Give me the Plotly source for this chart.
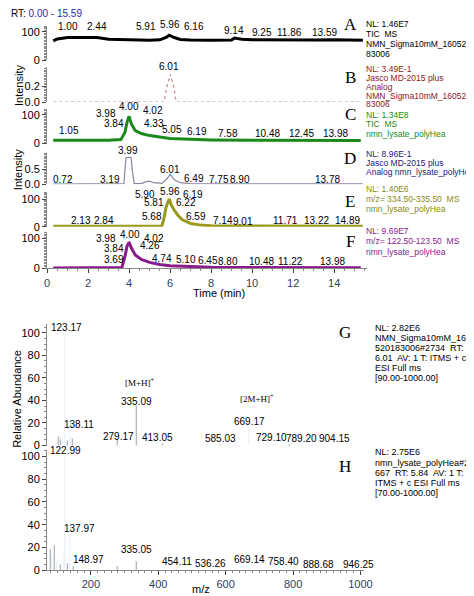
import plotly.graph_objects as go

W, H = 474, 596
def px(x): return x / W
def py(y): return 1 - y / H

# ---------------- data ----------------
tA = [0.3,0.5,1,1.5,2,2.44,3,3.5,4,4.5,5,5.5,5.8,5.96,6.2,6.5,7,8,9,9.14,9.5,10,11,12,13,14,15,15.4]
vA = [68,75,80,80,79,80,74,72,72,71,70,72,80,88,80,73,71,70,71,78,74,72,71,72,71,72,72,70]
tB = [0.3,5.7,5.85,6.01,6.17,6.3,15.4]
vB = [0,0,0.2,0.35,0.2,0,0]
tC = [0.3,1,2,3,3.6,3.8,3.9,4.0,4.1,4.3,4.6,5,5.5,6,7,8,10,12,14,15.3]
vC = [12,13,12,12,14,40,75,95,70,45,35,28,22,18,15,13,12,11,11,11]
tD = [0.3,3.5,3.75,3.8,3.85,4.1,4.15,4.25,4.6,4.8,5.0,5.2,5.6,5.8,6.01,6.2,6.5,7,8,15.4]
vD = [0,0,0.02,0.5,0.9,0.9,0.5,0.02,0.02,0.08,0.1,0.05,0.03,0.15,0.33,0.15,0.05,0.02,0.01,0.01]
tE = [0.3,5,5.6,5.7,5.8,5.9,5.96,6.05,6.2,6.4,6.6,7,7.5,8,9,15.4]
vE = [2,2,3,30,70,90,100,80,60,40,25,12,6,4,3,2]
tF = [0.3,3.5,3.65,3.8,3.9,4.0,4.1,4.3,4.6,5,5.5,6,7,8,10,15.3]
vF = [1,1,3,40,75,88,70,45,30,20,13,9,6,4,3,2]

mzG = [100,105,110,115,123.17,130,138.11,145,279.17,335.09,413.05,585.03,669.17,729.10,789.20,904.15]
abG = [3,8,5,4,100,4,22,6,5,35,2,1,15,2,1,1]
mzH = [80,85,92,100,110,120,122.99,130,137.97,148.97,280,335.05,454.11,536.26,669.14,758.40,888.68,946.25]
abH = [18,12,22,8,5,17,100,6,30,3,3,8,1,1,2,1,1,1]

# peak labels: (text, px x, px y)
labA = [("1.00",58,19),("2.44",88,19),("5.91",138,19),("5.96",163,17),("6.16",188,19),
        ("9.14",229,23),("9.25",258,25),("11.86",286,25),("13.59",322,25)]
labB = [("6.01",162,59)]
labC = [("3.98",97,107),("4.00",121,100),("4.02",146,104),("3.84",106,117),("4.33",147,117),
        ("1.05",60,124),("5.05",165,123),("6.19",191,125),("7.58",223,127),("10.48",263,127),
        ("12.45",298,127),("13.98",333,127)]
labD = [("3.99",120,144),("6.01",163,163),("0.72",53,173),("3.19",102,173),("6.49",188,172),
        ("7.75",213,173),("8.90",235,173),("13.78",325,173)]
labE = [("5.90",137,188),("5.96",163,185),("6.19",187,188),("5.81",147,196),("6.22",180,196),
        ("5.68",145,211),("6.59",190,211),("2.13",72,215),("2.84",95,215),("7.14",217,215),
        ("9.01",238,216),("11.71",282,215),("13.22",313,215),("14.89",345,215)]
labF = [("3.98",97,233),("4.00",122,229),("4.02",147,233),("3.84",106,243),("4.26",143,240),
        ("3.69",106,254),("4.74",155,253),("5.10",180,254),("6.45",202,255),("8.80",223,256),
        ("10.48",257,256),("11.22",287,256),("13.98",330,256)]
labG = [("123.17",57,323),("335.09",129,397),("669.17",245,418),("138.11",70,421),
        ("279.17",110,433),("413.05",150,434),("585.03",215,435),("729.10",267,434),
        ("789.20",298,435),("904.15",332,435)]
labH = [("122.99",56,447),("137.97",70,526),("335.05",129,547),("148.97",80,557),
        ("454.11",170,559),("536.26",205,561),("669.14",245,557),("758.40",280,559),
        ("888.68",315,562),("946.25",357,562)]

side = [
 ("A", 17, 16, 10, "black", ["NL: 1.46E7","TIC  MS","NMN_Sigma10mM_1605201","83006"]),
 ("B", 70, 62, 8.8, "#8b2020", ["NL: 3.49E-1","Jasco MD-2015 plus","Analog","NMN_Sigma10mM_1605201","83006"]),
 ("C", 108, 108, 9.5, "#1a8a1a", ["NL: 1.34E8","TIC  MS","nmn_lysate_polyHea"]),
 ("D", 152, 147, 9.5, "#202080", ["NL: 8.96E-1","Jasco MD-2015 plus","Analog nmn_lysate_polyHea"]),
 ("E", 195, 183, 10, "#8a8a10", ["NL: 1.40E6","m/z= 334.50-335.50  MS","nmn_lysate_polyHea"]),
 ("F", 236, 225, 10.5, "#8b1a8b", ["NL: 9.69E7","m/z= 122.50-123.50  MS","nmn_lysate_polyHea"]),
]
sideMS = [
 ("G", 328, 323, ["NL: 2.82E6","NMN_Sigma10mM_160","520183006#2734  RT:","6.01  AV: 1 T: ITMS + c","ESI Full ms","[90.00-1000.00]"]),
 ("H", 463, 449, ["NL: 2.75E6","nmn_lysate_polyHea#2","667  RT: 5.84  AV: 1 T:","ITMS + c ESI Full ms","[70.00-1000.00]"]),
]

# ---------------- figure ----------------
fig = go.Figure()
FONT = "Liberation Sans"
panels = [(tA,vA,"black",3,"solid","y"),(tB,vB,"#c08a8a",1.2,"dot","y2"),(tC,vC,"#1a8a1a",3,"solid","y3"),
          (tD,vD,"#8888a0",1.2,"solid","y4"),(tE,vE,"#9a9a1a",3,"solid","y5"),(tF,vF,"#8b1a8b",3,"solid","y6")]
for t,v,c,w,d,ya in panels:
    fig.add_trace(go.Scatter(x=t,y=v,mode="lines",line=dict(color=c,width=w,dash=d),xaxis="x",yaxis=ya,showlegend=False))
fig.add_trace(go.Bar(x=mzG,y=abG,width=1.8,marker_color="#777",xaxis="x2",yaxis="y7",showlegend=False))
fig.add_trace(go.Bar(x=mzH,y=abH,width=1.8,marker_color="#777",xaxis="x2",yaxis="y8",showlegend=False))

def yax(top,bot,rng,tickvals):
    return dict(domain=[py(bot),py(top)],range=rng,anchor="x" ,tickvals=tickvals,ticks="outside",ticklen=4,
                showline=True,linecolor="#888",linewidth=1,showgrid=False,zeroline=False,
                tickfont=dict(size=11,family=FONT,color="black"),
                minor=dict(ticks="outside",ticklen=2,tickcolor="#888",nticks=6))
lay = dict(width=W,height=H,margin=dict(l=0,r=0,t=0,b=0),plot_bgcolor="white",paper_bgcolor="white",bargap=0,
    xaxis=dict(domain=[px(37),px(365)],range=[0,15.59],anchor="y6",tickvals=[0,2,4,6,8,10,12,14],ticks="outside",ticklen=4,
               showline=True,linecolor="#888",showgrid=False,zeroline=False,tickfont=dict(size=11,family=FONT),
               minor=dict(ticks="outside",ticklen=2,dtick=0.5,tickcolor="#888")),
    xaxis2=dict(domain=[px(37),px(362)],range=[70,1010],anchor="y8",tickvals=[200,400,600,800,1000],ticks="outside",ticklen=4,
               showline=True,linecolor="#888",showgrid=False,zeroline=False,tickfont=dict(size=11,family=FONT),
               minor=dict(ticks="outside",ticklen=2,dtick=20,tickcolor="#888")),
    yaxis=yax(18,53,[0,120.7],[0,100]),
    yaxis2=yax(60,95,[0,0.4375],[0.0,0.2]),
    yaxis3=yax(102,137,[0,120.7],[0,100]),
    yaxis4=yax(146,178,[0,1.067],[0.0,0.5]),
    yaxis5=yax(186,221,[0,125],[0,100]),
    yaxis6=yax(226,263,[0,123],[0,100]),
)
lay["yaxis2"]["tickformat"]=".1f"; lay["yaxis4"]["tickformat"]=".1f"
y7 = yax(319,442,[0,108],[0,20,40,60,80,100]); y7["anchor"]="x2"
y8 = yax(446,568,[0,106],[0,20,40,60,80,100]); y8["anchor"]="x2"
lay["yaxis7"]=y7; lay["yaxis8"]=y8
fig.update_layout(**lay)

ann = []
def T(text,x,y,size=10,color="black",xa="center",ya="middle",family=FONT,angle=0):
    ann.append(dict(text=text,x=px(x),y=py(y),xref="paper",yref="paper",showarrow=False,xanchor=xa,yanchor=ya,
                    font=dict(size=size,color=color,family=family),textangle=angle))
for labs in [labA,labB,labC,labD,labE,labF,labG,labH]:
    for s,x,y in labs:
        T(s,x,y)
for letter,ly,ty,sp,col,lines in side:
    T(letter,348,ly,size=17,family="Liberation Serif",color="black")
    for i,l in enumerate(lines):
        T(l,362,ty+i*sp,size=8.5,color=col,xa="left")
for letter,ly,ty,lines in sideMS:
    T(letter,343,ly,size=17,family="Liberation Serif")
    for i,l in enumerate(lines):
        T(l,371,ty+i*10.2,size=9,xa="left")
T("[M+H]<sup>+</sup>",132,378,size=9,family="Liberation Serif")
T("[2M+H]<sup>+</sup>",252,394,size=9,family="Liberation Serif")
T("RT: <span style='color:#2a2aa0'>0.00 - 15.59</span>",-2,6,size=10,xa="left")
T("Intensity",8,78,size=11,angle=-90)
T("Intensity",8,163,size=11,angle=-90)
T("Relative Abundance",6,395,size=11,angle=-90)
T("Time (min)",213,288,size=11)
T("m/z",195,587,size=11)
fig.update_layout(annotations=ann)
fig.write_html("out.html")
